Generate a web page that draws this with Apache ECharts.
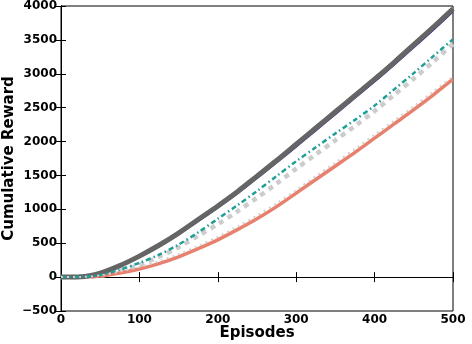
<!DOCTYPE html>
<html>
<head>
<meta charset="utf-8">
<script src="https://cdn.jsdelivr.net/npm/echarts@6/dist/echarts.min.js"></script>
<style>
  html, body { margin: 0; padding: 0; background: #fff; }
  #chart { width: 472px; height: 344px; }
</style>
</head>
<body>
<div id="chart"></div>
<script>
// 数据（每25个episode读一次）
const episodes = [0, 25, 50, 75, 100, 125, 150, 175, 200, 225, 250, 275, 300, 325, 350, 375, 400, 425, 450, 475, 500];
const grayThick = [0, 5, 60, 170, 310, 470, 650, 850, 1050, 1260, 1490, 1720, 1960, 2200, 2440, 2680, 2920, 3170, 3430, 3690, 3960];
const navyLine = [0, 4, 50, 160, 295, 455, 630, 825, 1025, 1235, 1460, 1690, 1925, 2165, 2405, 2645, 2885, 3135, 3390, 3650, 3920];
const oliveDots = [0, 5, 65, 178, 320, 482, 662, 862, 1065, 1275, 1505, 1738, 1978, 2218, 2460, 2700, 2942, 3192, 3452, 3712, 3975];
const tealDashDot = [0, 3, 30, 110, 210, 330, 480, 660, 860, 1060, 1270, 1490, 1710, 1915, 2120, 2320, 2530, 2770, 3010, 3260, 3510];
const grayDashed = [0, 2, 20, 90, 180, 300, 440, 610, 780, 970, 1170, 1380, 1600, 1810, 2020, 2230, 2450, 2690, 2930, 3180, 3440];
const salmonLine = [0, 1, 15, 60, 120, 200, 300, 420, 550, 700, 860, 1040, 1240, 1440, 1640, 1840, 2050, 2260, 2470, 2690, 2920];
const grayDotted = [0, 2, 25, 80, 150, 235, 340, 460, 595, 745, 910, 1090, 1285, 1490, 1690, 1890, 2100, 2310, 2520, 2740, 2960];

const xTicks = [0, 100, 200, 300, 400, 500];
const yTicks = [-500, 0, 500, 1000, 1500, 2000, 2500, 3000, 3500, 4000];

const tickFont = {
    fontFamily: 'DejaVu Sans',
    fontWeight: 'bold',
    fontSize: 12,
    color: '#000'
};
const nameFont = {
    fontFamily: 'DejaVu Sans',
    fontWeight: 'bold',
    fontSize: 15,
    color: '#000'
};

function pairs(ys) {
    return episodes.map((x, i) => [x, ys[i]]);
}

function lineSeries(name, ys, color, width, type, z) {
    return {
        name: name,
        type: 'line',
        data: pairs(ys),
        smooth: 0.3,
        showSymbol: false,
        z: z,
        lineStyle: { color: color, width: width, type: type }
    };
}

const chart = echarts.init(document.getElementById('chart'));
const option = {
    animation: false,
    grid: {
        left: 61, right: 19, top: 6, bottom: 33,
        outerBoundsMode: 'none',
        containLabel: false,
        show: true, borderColor: '#000', borderWidth: 1
    },
    xAxis: [{
        type: 'value', min: 0, max: 500, interval: 100,
        name: 'Episodes', nameLocation: 'middle', nameGap: 15,
        nameMoveOverlap: false,
        nameTextStyle: nameFont,
        axisLine: { lineStyle: { color: '#000' } },
        axisTick: { inside: true, length: 5, lineStyle: { color: '#000' } },
        axisLabel: Object.assign({ margin: 3, formatter: v => xTicks.includes(v) ? String(v) : '' }, tickFont),
        splitLine: { show: false }
    }, {
        type: 'value', min: 0, max: 500, interval: 100, position: 'top',
        axisLine: { lineStyle: { color: '#000' } },
        axisTick: { inside: true, length: 5, lineStyle: { color: '#000' } },
        axisLabel: { show: false },
        splitLine: { show: false }
    }],
    yAxis: [{
        type: 'value', min: -500, max: 4000, interval: 500,
        name: 'Cumulative Reward', nameLocation: 'middle', nameGap: 44,
        nameMoveOverlap: false,
        nameTextStyle: nameFont,
        axisLine: { show: true, lineStyle: { color: '#000' } },
        axisTick: { show: true, inside: true, length: 5, lineStyle: { color: '#000' } },
        axisLabel: Object.assign({
            margin: 4,
            formatter: v => yTicks.includes(v) ? String(v).replace('-', '\u2212') : ''
        }, tickFont),
        splitLine: { show: false }
    }, {
        type: 'value', min: -500, max: 4000, interval: 500, position: 'right',
        axisLine: { show: true, lineStyle: { color: '#000' } },
        axisTick: { show: true, inside: true, length: 5, lineStyle: { color: '#000' } },
        axisLabel: { show: false },
        splitLine: { show: false }
    }],
    series: [
        lineSeries('olive', oliveDots, '#b8b870', 1.5, [2, 3], 1),
        lineSeries('navy', navyLine, '#2e3192', 2, 'solid', 2),
        lineSeries('gray', grayThick, '#656565', 5, 'solid', 3),
        lineSeries('grayDashed', grayDashed, '#cccccc', 4.5, [5, 5], 2),
        lineSeries('teal', tealDashDot, '#1f9e98', 2.5, [5, 3, 1.5, 3], 3),
        lineSeries('salmon', salmonLine, '#e8806e', 3.5, 'solid', 2),
        lineSeries('grayDotted', grayDotted, '#cfcfcf', 2, [2, 4], 3)
    ]
};
chart.setOption(option);
</script>
</body>
</html>
